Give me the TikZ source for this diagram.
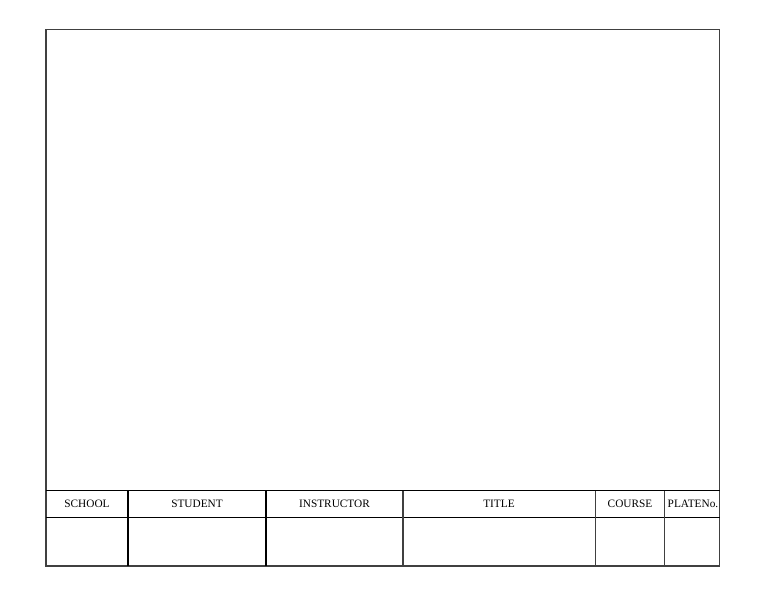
\documentclass[tikz,border=0pt]{standalone}
\usepackage{fontspec}
\setmainfont{Liberation Serif}
\usetikzlibrary{positioning}

\begin{document}
\begin{tikzpicture}[x=1pt,y=-1pt,
    heading/.style={font=\fontsize{11.3}{13}\selectfont, inner sep=0pt, anchor=center},
    frameline/.style={line width=1.2pt, draw=black!75},
    boldline/.style={line width=1.8pt, draw=black}]
            \useasboundingbox (0,0) rectangle (768,594);
            % sheet border
            \draw[frameline] (46,29.5) rectangle (719.5,566);
            % title block rows
            \draw[boldline] (46,490.5) -- (719.5,490.5);
            \draw[boldline] (46,517.5) -- (719.5,517.5);
            \foreach \x in {128,266}{
                \draw[boldline] (\x,490.5) -- (\x,566);
            }
            \foreach \x in {403,595.5,664.5}{
                \draw[frameline] (\x,490.5) -- (\x,566);
            }
            % headings
            \node[heading] (school) at (87,503.5) {SCHOOL};
            \node[heading] (student) at (197,503.5) {STUDENT};
            \node[heading] (instructor) at (334.5,503.5) {INSTRUCTOR};
            \node[heading] (title) at (499,503.5) {TITLE};
            \node[heading] (course) at (630,503.5) {COURSE};
            \node[heading] (plate) at (693,503.5) {PLATENo.};
        \end{tikzpicture}
\end{document}
